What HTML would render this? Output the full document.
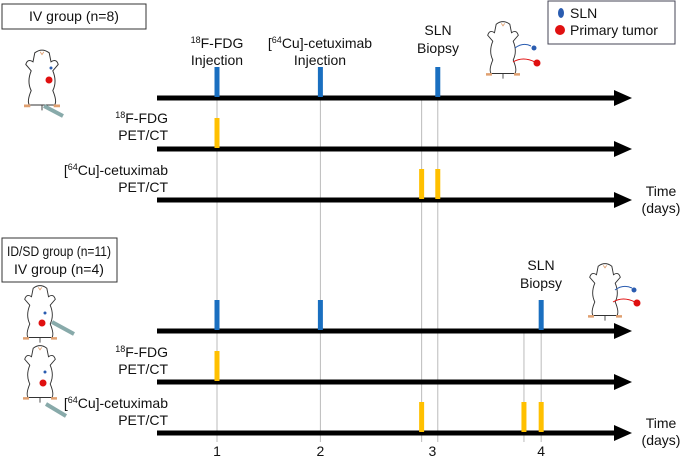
<!DOCTYPE html>
<html><head><meta charset="utf-8"><style>
body{margin:0;background:#fff}
svg{display:block;font-family:"Liberation Sans",sans-serif}
text{font-size:14px;fill:#111}
</style></head><body>
<svg id="c" width="685" height="466" viewBox="0 0 685 466">
<defs>
<g id="mouse">
<path d="M-8,-28 Q0,-34 8,-28 L10,-18 Q16,-22 18,-15 L12,-8 Q17,4 12,14 Q17,26 14,30 L-14,30 Q-17,26 -12,14 Q-17,4 -12,-8 L-18,-15 Q-16,-22 -10,-18 Z" fill="#fff" stroke="#333" stroke-width="1.1"/>
<path d="M-20,31 l7,0 M13,31 l7,0" stroke="#e0a070" stroke-width="3"/>
<path d="M0,30 l0,6" stroke="#333"/>
<path d="M-2,-29 l2,3 l2,-3" stroke="#e0a070" fill="none"/>
</g>
</defs>
</svg>
<script>
const days=[1,1.96,3,4.01];
const tickLabels=["1","2","3","4"];
const topBlue=[1,1.96,3.05];
const topYellowFDG=[1];
const topYellowCu=[2.9,3.05];
const botBlue=[1,1.96,4.01];
const botYellowFDG=[1];
const botYellowCu=[2.9,3.85,4.01];
const xs=d=>217+(d-1)*107.7;
const NS="http://www.w3.org/2000/svg";
const svg=document.getElementById('c');
function el(tag,attrs,parent,txt){const e=document.createElementNS(NS,tag);for(const k in attrs)e.setAttribute(k,attrs[k]);if(txt!==undefined)e.textContent=txt;(parent||svg).appendChild(e);return e;}
const rowsTop=[98,149,200], rowsBot=[331,382,433];
function guide(d,y0){const g=el('line',{x1:xs(d),x2:xs(d),y1:y0,y2:442,stroke:'#bbb','stroke-width':1});

}
topBlue.slice(0,2).forEach(d=>guide(d,rowsTop[0]));
topYellowCu.forEach(d=>guide(d,rowsTop[0]));
botYellowCu.slice(1).forEach(d=>guide(d,rowsBot[0]));
function axis(y,name){
const l=el('line',{x1:157,x2:616,y1:y,y2:y,stroke:'#000','stroke-width':5});


const a=el('polygon',{points:`614,${y-8} 632,${y} 614,${y+8}`,fill:'#000'});

}
rowsTop.forEach((y,i)=>axis(y,'top-axis-'+(i+1)));
rowsBot.forEach((y,i)=>axis(y,'bottom-axis-'+(i+1)));
function bar(d,y,color,name){const r=el('rect',{x:xs(d)-2.5,y:y-31,width:5,height:30,fill:color});

}
topBlue.forEach(d=>bar(d,rowsTop[0],'#1a6fc0','injection-bar'));
topYellowFDG.forEach(d=>bar(d,rowsTop[1],'#ffc000','fdg-scan-bar'));
topYellowCu.forEach(d=>bar(d,rowsTop[2],'#ffc000','cu-scan-bar'));
botBlue.forEach(d=>bar(d,rowsBot[0],'#1a6fc0','injection-bar'));
botYellowFDG.forEach(d=>bar(d,rowsBot[1],'#ffc000','fdg-scan-bar'));
botYellowCu.forEach(d=>bar(d,rowsBot[2],'#ffc000','cu-scan-bar'));
days.forEach((d,i)=>{const t=el('text',{x:xs(d),y:456,'text-anchor':'middle'},null,tickLabels[i]);

});
</script>
<svg width="685" height="466" style="position:absolute;left:0;top:0;font-family:'Liberation Sans',sans-serif">
<rect x="2" y="4" width="144" height="25" fill="#fff" stroke="#333"/>
<text x="74" y="21" text-anchor="middle">IV group (n=8)</text>
<rect x="2" y="238" width="115" height="44" fill="#fff" stroke="#333"/>
<text x="59" y="256" text-anchor="middle" font-size="13" textLength="104" lengthAdjust="spacingAndGlyphs">ID/SD group (n=11)</text>
<text x="59" y="274" text-anchor="middle" font-size="13">IV group (n=4)</text>
<rect x="548" y="1" width="127" height="43" fill="#fff" stroke="#445"/>
<ellipse cx="561" cy="13" rx="3" ry="5" fill="#2a5cb0"/>
<text x="570" y="18">SLN</text>
<circle cx="560" cy="30" r="5" fill="#e01010"/>
<text x="570" y="35">Primary tumor</text>
<g text-anchor="middle">
<text x="217" y="48"><tspan font-size="9" dy="-5">18</tspan><tspan dy="5">F-FDG</tspan></text>
<text x="217" y="65">Injection</text>
<text x="320" y="48">[<tspan font-size="9" dy="-5">64</tspan><tspan dy="5">Cu]-cetuximab</tspan></text>
<text x="320" y="65">Injection</text>
<text x="438" y="35">SLN</text>
<text x="438" y="53">Biopsy</text>
<text x="541" y="270">SLN</text>
<text x="541" y="288">Biopsy</text>
<text x="661" y="196">Time</text>
<text x="661" y="213">(days)</text>
<text x="661" y="428">Time</text>
<text x="661" y="445">(days)</text>
</g>
<g text-anchor="end">
<text x="168" y="123"><tspan font-size="9" dy="-5">18</tspan><tspan dy="5">F-FDG</tspan></text>
<text x="168" y="140">PET/CT</text>
<text x="168" y="175">[<tspan font-size="9" dy="-5">64</tspan><tspan dy="5">Cu]-cetuximab</tspan></text>
<text x="168" y="192">PET/CT</text>
<text x="168" y="357"><tspan font-size="9" dy="-5">18</tspan><tspan dy="5">F-FDG</tspan></text>
<text x="168" y="374">PET/CT</text>
<text x="168" y="408">[<tspan font-size="9" dy="-5">64</tspan><tspan dy="5">Cu]-cetuximab</tspan></text>
<text x="168" y="425">PET/CT</text>
</g>
<g>
<use href="#mouse" transform="translate(42,78) scale(0.9)"/>
<circle cx="49" cy="80" r="3.5" fill="#e01010"/><circle cx="51" cy="68" r="1.5" fill="#2a5cb0"/>
<line x1="44" y1="106" x2="63" y2="116" stroke="#8aa" stroke-width="4"/>
</g>
<g>
<use href="#mouse" transform="translate(503,48) scale(0.85)"/>
<path d="M515,48 q8,-6 16,-2" stroke="#2a5cb0" fill="none"/><circle cx="534" cy="48" r="2.5" fill="#2a5cb0"/>
<path d="M513,62 q10,-6 22,0" stroke="#e01010" fill="none"/><circle cx="537" cy="63" r="3.5" fill="#e01010"/>
</g>
<g>
<use href="#mouse" transform="translate(40,312) scale(0.85)"/>
<circle cx="42" cy="323" r="3.5" fill="#e01010"/><circle cx="45" cy="313" r="1.5" fill="#2a5cb0"/>
<line x1="52" y1="322" x2="74" y2="334" stroke="#8aa" stroke-width="4"/>
</g>
<g>
<use href="#mouse" transform="translate(40,372) scale(0.85)"/>
<circle cx="43" cy="383" r="3.5" fill="#e01010"/><circle cx="45" cy="372" r="1.5" fill="#2a5cb0"/>
<line x1="46" y1="404" x2="66" y2="416" stroke="#8aa" stroke-width="4"/>
</g>
<g>
<use href="#mouse" transform="translate(605,290) scale(0.85)"/>
<path d="M615,290 q8,-6 17,-2" stroke="#2a5cb0" fill="none"/><circle cx="634" cy="290" r="2.5" fill="#2a5cb0"/>
<path d="M613,302 q10,-6 22,0" stroke="#e01010" fill="none"/><circle cx="637" cy="303" r="3.5" fill="#e01010"/>
</g>
</svg>
</body></html>
